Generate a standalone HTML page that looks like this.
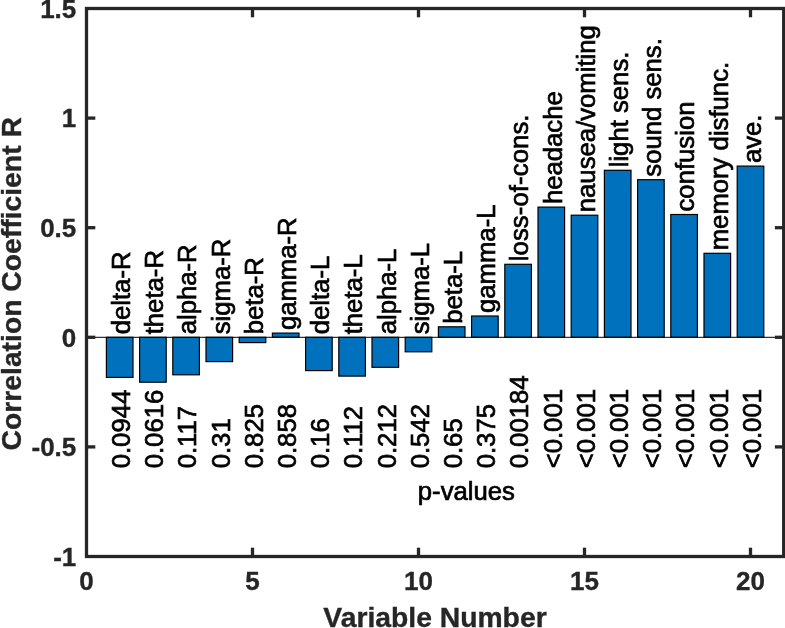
<!DOCTYPE html>
<html><head><meta charset="utf-8"><title>Correlation Coefficient R</title>
<style>
html,body{margin:0;padding:0;background:#fff;}
body{width:785px;height:628px;overflow:hidden;}
svg{display:block;}
text{font-family:"Liberation Sans",sans-serif;}
.tk{font-weight:bold;font-size:26px;fill:#262626;stroke:#262626;stroke-width:0.35px;}
.lb{font-weight:bold;font-size:28.3px;fill:#262626;stroke:#262626;stroke-width:0.35px;}
.tx{font-size:25.7px;fill:#000;stroke:#000;stroke-width:0.7px;}
</style></head><body>
<svg width="785" height="628" viewBox="0 0 785 628">
<rect x="0" y="0" width="785" height="628" fill="#fff"/>

<rect x="106.4" y="337.3" width="26.6" height="40.1" fill="#0072BD" stroke="#000" stroke-width="1.2"/>
<rect x="139.6" y="337.3" width="26.6" height="44.9" fill="#0072BD" stroke="#000" stroke-width="1.2"/>
<rect x="172.8" y="337.3" width="26.6" height="37.5" fill="#0072BD" stroke="#000" stroke-width="1.2"/>
<rect x="206.0" y="337.3" width="26.6" height="24.3" fill="#0072BD" stroke="#000" stroke-width="1.2"/>
<rect x="239.2" y="337.3" width="26.6" height="5.3" fill="#0072BD" stroke="#000" stroke-width="1.2"/>
<rect x="272.4" y="333.1" width="26.6" height="4.2" fill="#0072BD" stroke="#000" stroke-width="1.2"/>
<rect x="305.6" y="337.3" width="26.6" height="33.3" fill="#0072BD" stroke="#000" stroke-width="1.2"/>
<rect x="338.8" y="337.3" width="26.6" height="38.8" fill="#0072BD" stroke="#000" stroke-width="1.2"/>
<rect x="372.0" y="337.3" width="26.6" height="30.0" fill="#0072BD" stroke="#000" stroke-width="1.2"/>
<rect x="405.2" y="337.3" width="26.6" height="14.5" fill="#0072BD" stroke="#000" stroke-width="1.2"/>
<rect x="438.4" y="326.8" width="26.6" height="10.5" fill="#0072BD" stroke="#000" stroke-width="1.2"/>
<rect x="471.6" y="316.0" width="26.6" height="21.3" fill="#0072BD" stroke="#000" stroke-width="1.2"/>
<rect x="504.8" y="264.3" width="26.6" height="73.0" fill="#0072BD" stroke="#000" stroke-width="1.2"/>
<rect x="538.0" y="207.1" width="26.6" height="130.2" fill="#0072BD" stroke="#000" stroke-width="1.2"/>
<rect x="571.2" y="215.2" width="26.6" height="122.1" fill="#0072BD" stroke="#000" stroke-width="1.2"/>
<rect x="604.4" y="170.3" width="26.6" height="167.0" fill="#0072BD" stroke="#000" stroke-width="1.2"/>
<rect x="637.6" y="179.7" width="26.6" height="157.6" fill="#0072BD" stroke="#000" stroke-width="1.2"/>
<rect x="670.8" y="214.5" width="26.6" height="122.8" fill="#0072BD" stroke="#000" stroke-width="1.2"/>
<rect x="704.0" y="253.3" width="26.6" height="84.0" fill="#0072BD" stroke="#000" stroke-width="1.2"/>
<rect x="737.2" y="166.1" width="26.6" height="171.2" fill="#0072BD" stroke="#000" stroke-width="1.2"/>
<line x1="86.5" y1="337.3" x2="783.7" y2="337.3" stroke="#000" stroke-width="1"/>
<rect x="86.5" y="8.5" width="697.2" height="548.0" fill="none" stroke="#262626" stroke-width="3.3"/>
<line x1="252.5" y1="556.5" x2="252.5" y2="547.7" stroke="#262626" stroke-width="3.3"/>
<line x1="252.5" y1="8.5" x2="252.5" y2="17.3" stroke="#262626" stroke-width="3.3"/>
<line x1="418.5" y1="556.5" x2="418.5" y2="547.7" stroke="#262626" stroke-width="3.3"/>
<line x1="418.5" y1="8.5" x2="418.5" y2="17.3" stroke="#262626" stroke-width="3.3"/>
<line x1="584.5" y1="556.5" x2="584.5" y2="547.7" stroke="#262626" stroke-width="3.3"/>
<line x1="584.5" y1="8.5" x2="584.5" y2="17.3" stroke="#262626" stroke-width="3.3"/>
<line x1="750.5" y1="556.5" x2="750.5" y2="547.7" stroke="#262626" stroke-width="3.3"/>
<line x1="750.5" y1="8.5" x2="750.5" y2="17.3" stroke="#262626" stroke-width="3.3"/>
<line x1="86.5" y1="446.9" x2="95.3" y2="446.9" stroke="#262626" stroke-width="3.3"/>
<line x1="783.7" y1="446.9" x2="774.9" y2="446.9" stroke="#262626" stroke-width="3.3"/>
<line x1="86.5" y1="337.3" x2="95.3" y2="337.3" stroke="#262626" stroke-width="3.3"/>
<line x1="783.7" y1="337.3" x2="774.9" y2="337.3" stroke="#262626" stroke-width="3.3"/>
<line x1="86.5" y1="227.7" x2="95.3" y2="227.7" stroke="#262626" stroke-width="3.3"/>
<line x1="783.7" y1="227.7" x2="774.9" y2="227.7" stroke="#262626" stroke-width="3.3"/>
<line x1="86.5" y1="118.1" x2="95.3" y2="118.1" stroke="#262626" stroke-width="3.3"/>
<line x1="783.7" y1="118.1" x2="774.9" y2="118.1" stroke="#262626" stroke-width="3.3"/>
<text class="tk" x="86.50" y="590.30" text-anchor="middle">0</text>
<text class="tk" x="252.50" y="590.30" text-anchor="middle">5</text>
<text class="tk" x="418.50" y="590.30" text-anchor="middle">10</text>
<text class="tk" x="584.50" y="590.30" text-anchor="middle">15</text>
<text class="tk" x="750.50" y="590.30" text-anchor="middle">20</text>
<text class="tk" x="76.30" y="565.80" text-anchor="end">-1</text>
<text class="tk" x="76.30" y="456.20" text-anchor="end">-0.5</text>
<text class="tk" x="76.30" y="346.60" text-anchor="end">0</text>
<text class="tk" x="76.30" y="237.00" text-anchor="end">0.5</text>
<text class="tk" x="76.30" y="127.40" text-anchor="end">1</text>
<text class="tk" x="76.30" y="17.80" text-anchor="end">1.5</text>
<text class="lb" x="435.00" y="626.80" text-anchor="middle">Variable Number</text>
<text class="lb" transform="translate(21,283.8) rotate(-90)" text-anchor="middle">Correlation Coefficient R</text>
<text class="tx" transform="translate(129.9,334.3) rotate(-90)">delta-R</text>
<text class="tx" transform="translate(129.9,468.3) rotate(-90)">0.0944</text>
<text class="tx" transform="translate(163.1,334.3) rotate(-90)">theta-R</text>
<text class="tx" transform="translate(163.1,468.3) rotate(-90)">0.0616</text>
<text class="tx" transform="translate(196.3,334.3) rotate(-90)">alpha-R</text>
<text class="tx" transform="translate(196.3,468.3) rotate(-90)">0.117</text>
<text class="tx" transform="translate(229.5,334.3) rotate(-90)">sigma-R</text>
<text class="tx" transform="translate(229.5,468.3) rotate(-90)">0.31</text>
<text class="tx" transform="translate(262.7,334.3) rotate(-90)">beta-R</text>
<text class="tx" transform="translate(262.7,468.3) rotate(-90)">0.825</text>
<text class="tx" transform="translate(295.9,330.1) rotate(-90)">gamma-R</text>
<text class="tx" transform="translate(295.9,468.3) rotate(-90)">0.858</text>
<text class="tx" transform="translate(329.1,334.3) rotate(-90)">delta-L</text>
<text class="tx" transform="translate(329.1,468.3) rotate(-90)">0.16</text>
<text class="tx" transform="translate(362.3,334.3) rotate(-90)">theta-L</text>
<text class="tx" transform="translate(362.3,468.3) rotate(-90)">0.112</text>
<text class="tx" transform="translate(395.5,334.3) rotate(-90)">alpha-L</text>
<text class="tx" transform="translate(395.5,468.3) rotate(-90)">0.212</text>
<text class="tx" transform="translate(428.7,334.3) rotate(-90)">sigma-L</text>
<text class="tx" transform="translate(428.7,468.3) rotate(-90)">0.542</text>
<text class="tx" transform="translate(461.9,323.8) rotate(-90)">beta-L</text>
<text class="tx" transform="translate(461.9,468.3) rotate(-90)">0.65</text>
<text class="tx" transform="translate(495.1,313.0) rotate(-90)">gamma-L</text>
<text class="tx" transform="translate(495.1,468.3) rotate(-90)">0.375</text>
<text class="tx" style="letter-spacing:0.1px" transform="translate(528.3,261.3) rotate(-90)">loss-of-cons.</text>
<text class="tx" transform="translate(528.3,468.3) rotate(-90)">0.00184</text>
<text class="tx" transform="translate(561.5,204.1) rotate(-90)">headache</text>
<text class="tx" transform="translate(561.5,468.3) rotate(-90)">&lt;0.001</text>
<text class="tx" transform="translate(594.7,212.2) rotate(-90)">nausea/vomiting</text>
<text class="tx" transform="translate(594.7,468.3) rotate(-90)">&lt;0.001</text>
<text class="tx" transform="translate(627.9,167.3) rotate(-90)">light sens.</text>
<text class="tx" transform="translate(627.9,468.3) rotate(-90)">&lt;0.001</text>
<text class="tx" transform="translate(661.1,176.7) rotate(-90)">sound sens.</text>
<text class="tx" transform="translate(661.1,468.3) rotate(-90)">&lt;0.001</text>
<text class="tx" transform="translate(694.3,211.5) rotate(-90)">confusion</text>
<text class="tx" transform="translate(694.3,468.3) rotate(-90)">&lt;0.001</text>
<text class="tx" transform="translate(727.5,250.3) rotate(-90)">memory disfunc.</text>
<text class="tx" transform="translate(727.5,468.3) rotate(-90)">&lt;0.001</text>
<text class="tx" transform="translate(760.7,163.1) rotate(-90)">ave.</text>
<text class="tx" transform="translate(760.7,468.3) rotate(-90)">&lt;0.001</text>
<text class="tx" x="417.80" y="499.80" text-anchor="start">p-values</text>
</svg></body></html>
